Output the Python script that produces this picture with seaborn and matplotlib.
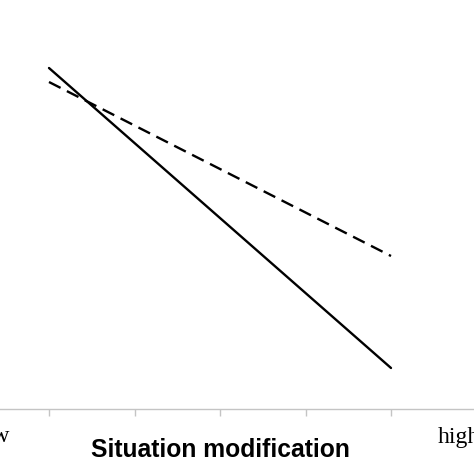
import matplotlib
matplotlib.use("Agg")
import matplotlib.pyplot as plt
import seaborn as sns
import pandas as pd

# Data (arbitrary units)
x_positions = [0, 4]
solid_values = [3.41, 0.41]
dashed_values = [3.27, 1.53]
series_names = ["solid", "dashed"]
x_label = "Situation modification"
low_label = "low"
high_label = "high"
tick_positions = [0, 1, 2, 3, 4]

df = pd.DataFrame({
    "x": x_positions * 2,
    "y": solid_values + dashed_values,
    "group": [series_names[0]] * 2 + [series_names[1]] * 2,
})

sns.set_theme(style="white")
fig = plt.figure(figsize=(4.74, 4.74), dpi=100)
ax = fig.add_axes([0, 1 - 409 / 474, 1, 409 / 474])

sns.lineplot(data=df, x="x", y="y", hue="group", style="group",
             palette={"solid": "black", "dashed": "black"},
             dashes={"solid": "", "dashed": (5.5, 3)},
             linewidth=1.7, legend=False, ax=ax)

px_per_unit = (391 - 49) / 4
ax.set_xlim(-49 / px_per_unit, (474 - 49) / px_per_unit)
ax.set_ylim(0, 4.09)
ax.set_xticks(tick_positions)
ax.set_xticklabels([])
ax.set_yticks([])
ax.set_xlabel("")
ax.set_ylabel("")
for s in ["top", "right", "left"]:
    ax.spines[s].set_visible(False)
ax.spines["bottom"].set_color("#c4c4c4")
ax.spines["bottom"].set_linewidth(1.0)
ax.tick_params(axis="x", direction="out", length=5, width=1.0, color="#c4c4c4", bottom=True)

fig.text(10 / 474, 1 - 437 / 474, low_label, ha="right", va="center",
         fontsize=17, family="Liberation Serif", color="black")
fig.text(438 / 474, 1 - 437 / 474, high_label, ha="left", va="center",
         fontsize=17, family="Liberation Serif", color="black")
fig.text(220 / 474, 1 - 450 / 474, x_label, ha="center", va="center",
         fontsize=17.7, family="Liberation Sans", fontweight="bold", color="black")

fig.savefig("out.png", dpi=100)
